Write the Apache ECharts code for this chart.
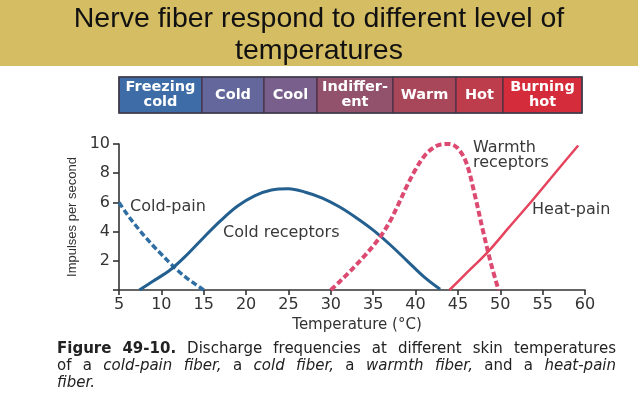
<!DOCTYPE html>
<html><head><meta charset="utf-8">
<script src="https://cdn.jsdelivr.net/npm/echarts@6/dist/echarts.min.js"></script>
<style>html,body{margin:0;padding:0;background:#fff}#c{width:638px;height:399px}</style>
</head><body><div id="c"></div>
<script>
// ---------- data ----------
const titleLines = ['Nerve fiber respond to different level of', 'temperatures'];
const bandLabels = ['Freezing\ncold', 'Cold', 'Cool', 'Indiffer-\nent', 'Warm', 'Hot', 'Burning\nhot'];
const xAxisTitle = 'Temperature (°C)';
const yAxisTitle = 'Impulses per second';
const seriesNames = ['Cold-pain', 'Cold receptors', 'Warmth\nreceptors', 'Heat-pain'];

const coldPainTemp = [5, 6, 7, 8, 9, 10, 11, 12, 13, 14, 15];
const coldPainRate = [6, 5.15, 4.4, 3.7, 3.05, 2.45, 1.85, 1.3, 0.82, 0.4, 0];

const coldRecTemp = [7.4, 9, 11, 13, 15, 17, 19, 21, 23, 25, 27, 29, 31, 33, 35, 37, 39, 41, 42.9];
const coldRecRate = [0, 0.6, 1.35, 2.4, 3.6, 4.75, 5.75, 6.45, 6.85, 6.93, 6.7, 6.3, 5.7, 4.95, 4.1, 3.1, 2.0, 0.9, 0.05];

const warmTemp = [30, 31, 32, 33, 34, 35, 36, 37, 38, 39, 40, 41, 42, 43, 44, 45, 46, 47, 48, 49, 49.8];
const warmRate = [0, 0.55, 1.12, 1.72, 2.35, 3.02, 3.78, 4.72, 5.9, 7.15, 8.25, 9.15, 9.7, 9.97, 10, 9.7, 8.7, 6.5, 3.95, 1.6, 0];

const heatPainTemp = [44, 46, 48.6, 51, 53.8, 56.5, 59.2];
const heatPainRate = [0, 1.15, 2.65, 4.27, 6.15, 8.03, 9.9];

const captionLine1 = [['Figure', 'b'], ['49-10.', 'b'], ['Discharge', 'n'], ['frequencies', 'n'], ['at', 'n'], ['different', 'n'], ['skin', 'n'], ['temperatures', 'n']];
const captionLine2 = [['of', 'n'], ['a', 'n'], ['cold-pain', 'i'], ['fiber,', 'i'], ['a', 'n'], ['cold', 'i'], ['fiber,', 'i'], ['a', 'n'], ['warmth', 'i'], ['fiber,', 'i'], ['and', 'n'], ['a', 'n'], ['heat-pain', 'i']];
const captionLine3 = [['fiber.', 'i']];

// ---------- layout / style ----------
const zip = (a, b) => a.map((v, i) => [v, b[i]]);
const bandEdges = [119, 202, 264, 317, 393, 456, 503, 582];
const bandColors = ['#3d6ca6', '#63679b', '#795f8b', '#93526c', '#a9475a', '#bd3d4c', '#d52c3b'];
const bandTop = 77, bandH = 36;

const graphics = [];
graphics.push({ type: 'rect', shape: { x: 0, y: 0, width: 638, height: 66 }, style: { fill: '#d5bd63' }, z: 0 });
titleLines.forEach((t, i) => graphics.push({
  type: 'text', style: { text: t, x: 319, y: 19 + i * 32, textAlign: 'center', textVerticalAlign: 'middle',
    fontFamily: 'Liberation Sans', fontSize: 28.5, fill: '#111' }, z: 2
}));
bandLabels.forEach((t, i) => {
  const x0 = bandEdges[i], x1 = bandEdges[i + 1];
  graphics.push({ type: 'rect', shape: { x: x0, y: bandTop, width: x1 - x0, height: bandH },
    style: { fill: bandColors[i], stroke: '#4a2f45', lineWidth: 1.2 }, z: 1 });
  graphics.push({ type: 'text', style: { text: t, x: (x0 + x1) / 2, y: bandTop + bandH / 2, textAlign: 'center', textVerticalAlign: 'middle',
    fontFamily: 'DejaVu Sans', fontWeight: 'bold', fontSize: 14.5, lineHeight: 15, fill: '#fff' }, z: 2 });
});
graphics.push({ type: 'rect', shape: { x: bandEdges[0], y: bandTop, width: bandEdges[7] - bandEdges[0], height: bandH },
  style: { fill: 'none', stroke: '#3c3c4c', lineWidth: 1.5 }, z: 3 });

// series labels
const lblStyle = { fontFamily: 'DejaVu Sans', fontSize: 16, fill: '#383838', textVerticalAlign: 'middle' };
[[seriesNames[0], 130, 207], [seriesNames[1], 223, 233], [seriesNames[3], 532, 210]].forEach(([t, x, y]) =>
  graphics.push({ type: 'text', style: Object.assign({ text: t, x, y }, lblStyle), z: 5 }));
graphics.push({ type: 'text', style: Object.assign({ text: seriesNames[2], x: 473, y: 155, lineHeight: 15 }, lblStyle), z: 5 });

// caption (justified)
const ctx = document.createElement('canvas').getContext('2d');
const capSize = 15;
const capFamily = 'DejaVu Sans';
function fontOf(k) {
  return (k === 'i' ? 'italic ' : '') + (k === 'b' ? 'bold ' : '') + capSize + 'px "' + capFamily + '"';
}
function placeLine(words, x0, x1, y, justify) {
  const ws = words.map(([t, k]) => { ctx.font = fontOf(k); return ctx.measureText(t).width; });
  const sum = ws.reduce((a, b) => a + b, 0);
  ctx.font = fontOf('n');
  const sp = justify && words.length > 1 ? (x1 - x0 - sum) / (words.length - 1) : ctx.measureText(' ').width;
  let x = x0;
  words.forEach(([t, k], i) => {
    graphics.push({ type: 'text', style: { text: t, x, y, textVerticalAlign: 'middle', fontFamily: capFamily,
      fontSize: capSize, fontWeight: k === 'b' ? 'bold' : 'normal', fontStyle: k === 'i' ? 'italic' : 'normal', fill: '#222' }, z: 5 });
    x += ws[i] + sp;
  });
}
placeLine(captionLine1, 57, 616, 349, true);
placeLine(captionLine2, 57, 616, 366, true);
placeLine(captionLine3, 57, 616, 383, false);

const chart = echarts.init(document.getElementById('c'), null, { renderer: 'canvas' });
chart.setOption({
  animation: false,
  backgroundColor: '#fff',
  grid: { left: 119, right: 53, top: 144, bottom: 109, containLabel: false },
  xAxis: {
    type: 'value', min: 5, max: 60, interval: 5,
    name: xAxisTitle, nameLocation: 'middle', nameGap: 28,
    nameTextStyle: { fontFamily: 'DejaVu Sans', fontSize: 15, color: '#333', padding: [0, 0, 0, 10] },
    axisLine: { lineStyle: { color: '#333', width: 1.6 } },
    axisTick: { show: true, length: 5, lineStyle: { color: '#333', width: 1.6 } },
    axisLabel: { margin: 7, fontFamily: 'DejaVu Sans', fontSize: 16, color: '#333' },
    splitLine: { show: false }
  },
  yAxis: {
    type: 'value', min: 0, max: 10, interval: 2,
    name: yAxisTitle, nameLocation: 'middle', nameGap: 40, nameRotate: 90,
    nameTextStyle: { fontFamily: 'Liberation Sans', fontSize: 13, color: '#333' },
    axisLine: { show: true, lineStyle: { color: '#333', width: 1.6 } },
    axisTick: { show: true, length: 6, lineStyle: { color: '#333', width: 1.6 } },
    axisLabel: { margin: 9, fontFamily: 'DejaVu Sans', fontSize: 16, color: '#333',
      formatter: v => (v === 0 ? '' : String(v)) },
    splitLine: { show: false }
  },
  series: [
    { name: seriesNames[0], type: 'line', data: zip(coldPainTemp, coldPainRate), smooth: 0.35, showSymbol: false,
      lineStyle: { color: '#2f6ea3', width: 3.5, type: [6, 3] } },
    { name: seriesNames[1], type: 'line', data: zip(coldRecTemp, coldRecRate), smooth: 0.35, showSymbol: false,
      lineStyle: { color: '#235f8f', width: 3 } },
    { name: seriesNames[2], type: 'line', data: zip(warmTemp, warmRate), smooth: 0.35, showSymbol: false,
      lineStyle: { color: '#dc4a72', width: 4, type: [6, 3] } },
    { name: seriesNames[3], type: 'line', data: zip(heatPainTemp, heatPainRate), smooth: 0.35, showSymbol: false,
      lineStyle: { color: '#e5445e', width: 2.5 } }
  ],
  graphic: graphics
});
</script></body></html>
